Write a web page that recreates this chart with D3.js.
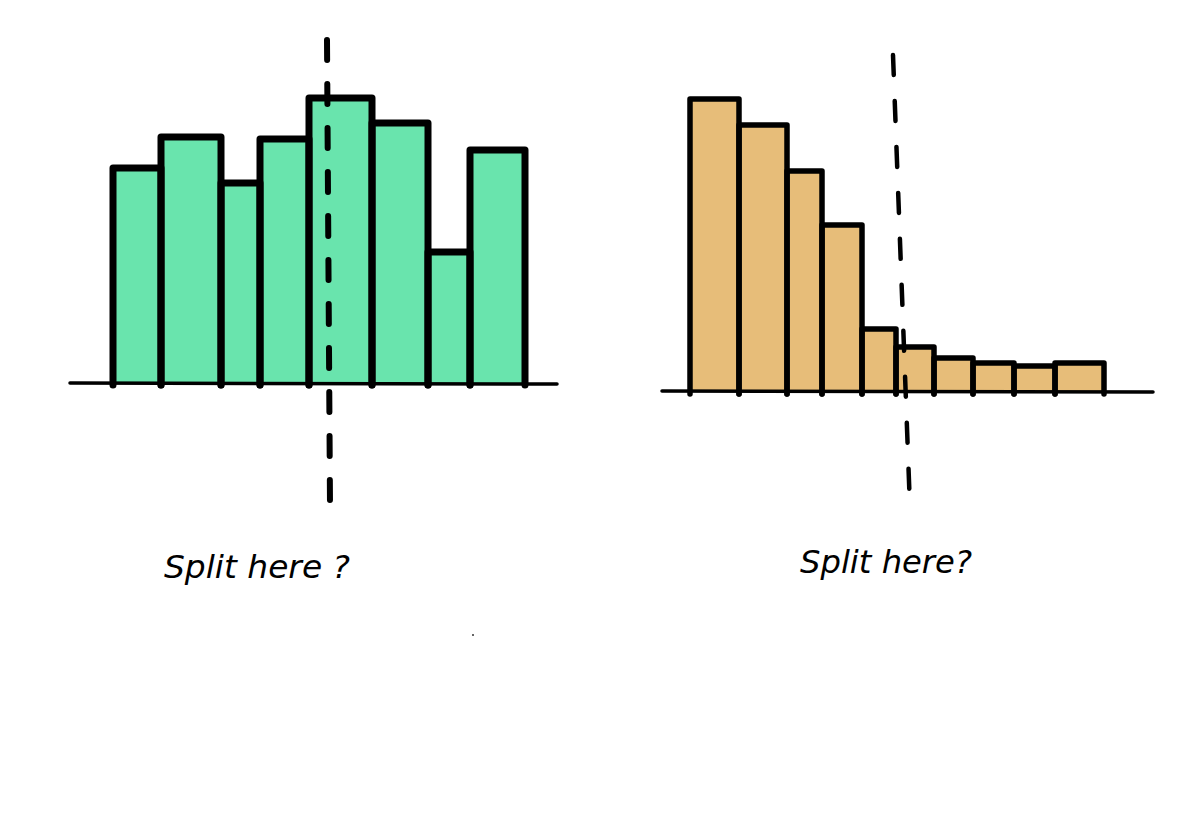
<!DOCTYPE html>
<html>
<head>
<meta charset="utf-8">
<script src="https://cdn.jsdelivr.net/npm/d3@7"></script>
<style>
  html, body { margin: 0; padding: 0; background: #ffffff; }
  svg { display: block; }
</style>
</head>
<body>
<svg id="chart" width="1200" height="838"></svg>
<script>
// ---------- data ----------
// Left histogram: roughly uniform distribution
const leftWidths  = [48, 60, 39, 49, 63, 56, 42, 55];          // relative bin widths
const leftValues  = [215, 246, 200, 244, 285, 260, 131, 233];  // bar heights
const leftSplitAt = 214;                                        // split position (x units from first edge)
const leftLabel   = "Split here ?";

// Right histogram: long-tailed distribution
const rightWidths  = [49, 48, 35, 40, 34, 38, 39, 41, 41, 49];
const rightValues  = [292, 266, 220, 166, 62, 44, 33, 28, 25, 28];
const rightSplitAt = 212;
const rightLabel   = "Split here?";

// ---------- drawing ----------
const svg = d3.select("#chart");

function histogram(cfg) {
  const edges = [0];
  cfg.widths.forEach(w => edges.push(edges[edges.length - 1] + w));
  const total = edges[edges.length - 1];

  const x = d3.scaleLinear().domain([0, total]).range([cfg.x0, cfg.x1]);
  const y = d3.scaleLinear().domain([0, 300]).range([cfg.base, cfg.base - 300]);

  const g = svg.append("g");
  const bins = cfg.values.map((v, i) => ({ v, a: edges[i], b: edges[i + 1] }));

  // bar fills
  g.selectAll("rect.bar").data(bins).join("rect")
    .attr("class", "bar")
    .attr("x", d => x(d.a))
    .attr("width", d => x(d.b) - x(d.a))
    .attr("y", d => y(d.v))
    .attr("height", d => y(0) - y(d.v))
    .attr("fill", cfg.fill);

  // baseline axis
  g.append("line")
    .attr("x1", cfg.axisL).attr("x2", cfg.axisR)
    .attr("y1", cfg.base).attr("y2", cfg.base + 1)
    .attr("stroke", "#000").attr("stroke-width", 3.5)
    .attr("stroke-linecap", "round");

  // bar outlines (open at the bottom, like the sketch)
  g.selectAll("path.outline").data(bins).join("path")
    .attr("class", "outline")
    .attr("d", d => {
      const p = d3.path();
      p.moveTo(x(d.a), y(0) + cfg.over);
      p.lineTo(x(d.a), y(d.v));
      p.lineTo(x(d.b), y(d.v));
      p.lineTo(x(d.b), y(0) + cfg.over);
      return p.toString();
    })
    .attr("fill", "none")
    .attr("stroke", "#000")
    .attr("stroke-width", cfg.sw)
    .attr("stroke-linejoin", "round")
    .attr("stroke-linecap", "round");

  // dashed split line
  g.append("line")
    .attr("x1", x(cfg.split) + cfg.splitSkew[0]).attr("x2", x(cfg.split) + cfg.splitSkew[1])
    .attr("y1", cfg.splitY[0]).attr("y2", cfg.splitY[1])
    .attr("stroke", "#000").attr("stroke-width", cfg.dashW)
    .attr("stroke-linecap", "round")
    .attr("stroke-dasharray", cfg.dash);

  // label
  g.append("text")
    .attr("x", cfg.labelX).attr("y", cfg.labelY)
    .attr("textLength", cfg.labelLen)
    .attr("lengthAdjust", "spacingAndGlyphs")
    .attr("font-family", "'DejaVu Sans', sans-serif")
    .attr("font-style", "italic")
    .attr("font-size", 32)
    .attr("fill", "#000")
    .text(cfg.label);
}

histogram({
  widths: leftWidths, values: leftValues, split: leftSplitAt, label: leftLabel,
  x0: 113, x1: 525, base: 383, axisL: 70, axisR: 557,
  fill: "#69e4ad", sw: 7, over: 2,
  splitSkew: [0, 3], splitY: [40, 505], dash: "20 24", dashW: 6,
  labelX: 164, labelY: 578, labelLen: 186
});

histogram({
  widths: rightWidths, values: rightValues, split: rightSplitAt, label: rightLabel,
  x0: 690, x1: 1104, base: 391, axisL: 662, axisR: 1153,
  fill: "#e7bd79", sw: 5.5, over: 3,
  splitSkew: [-9, 8], splitY: [55, 508], dash: "20 26", dashW: 4.5,
  labelX: 800, labelY: 573, labelLen: 172
});

// stray dot
svg.append("circle").attr("cx", 473).attr("cy", 635).attr("r", 1).attr("fill", "#333");
</script>
</body>
</html>
